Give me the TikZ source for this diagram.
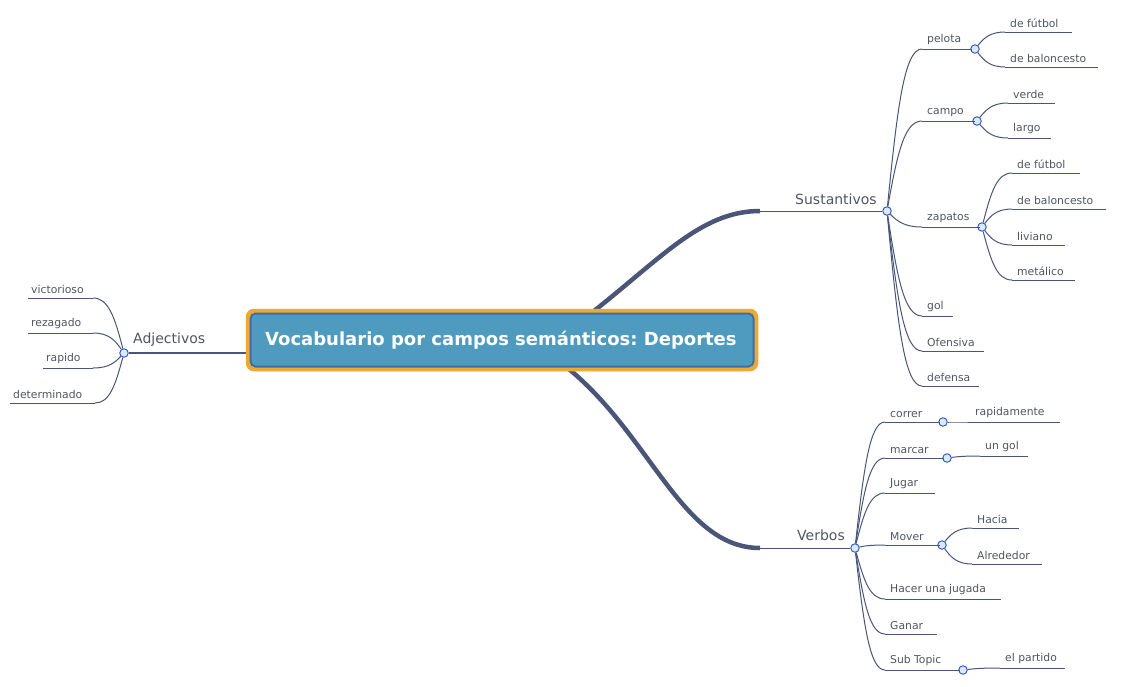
\documentclass[tikz,border=0pt]{standalone}
\usepackage{fontspec}
\setmainfont{DejaVu Sans}
\usetikzlibrary{calc}
\pgfdeclarelayer{bg}
\pgfsetlayers{bg,main}
\frenchspacing
\definecolor{ln}{HTML}{4A5578}
\definecolor{tx}{HTML}{505560}
\definecolor{cf}{HTML}{DDE8F8}
\definecolor{cb}{HTML}{2255CC}
\definecolor{mainfill}{HTML}{4F9BC0}
\definecolor{mainin}{HTML}{3A6FA8}
\definecolor{mainout}{HTML}{F0A830}
\tikzset{
 lnk/.style={draw=ln,line width=1pt},
 thick lnk/.style={draw=ln,line width=4.5pt},
 hub/.style={circle,draw=cb,fill=cf,line width=0.9pt,inner sep=0pt,minimum size=8.5pt},
 lbl/.style={text=tx,font=\fontsize{10.8}{12}\selectfont,inner sep=0pt,anchor=south west},
 big/.style={text=tx,font=\fontsize{14}{16}\selectfont,inner sep=0pt,anchor=south west},
}
\newcommand\fan[2]{%
 \begin{pgfonlayer}{bg}
 \draw[lnk] let \p1=(#1), \p2=(#2) in (#1) .. controls ({\x1+0.3*(\x2-\x1)},{\y1+0.65*(\y2-\y1)}) and ({\x1+0.5*(\x2-\x1)},\y2) .. (#2);
 \end{pgfonlayer}}
% #1 name, #2 parent, #3 x-start, #4 x-end, #5 y, #6 text
\newcommand\rleaf[6]{%
 \coordinate (#1-s) at (#3,#5); \coordinate (#1-e) at (#4,#5);
 \node[lbl] (#1) at ([xshift=5pt,yshift=4pt]#1-s) {#6};
 \fan{#2}{#1-s}\draw[lnk] (#1-s) -- (#1-e);}
\newcommand\lleaf[6]{%
 \coordinate (#1-s) at (#3,#5); \coordinate (#1-e) at (#4,#5);
 \node[lbl] (#1) at ([xshift=3pt,yshift=4pt]#1-s) {#6};
 \fan{#2}{#1-e}\draw[lnk] (#1-e) -- (#1-s);}
\begin{document}
\begin{tikzpicture}[x=1pt,y=-1pt]
\useasboundingbox (0,0) rectangle (1129,686);
\node[hub] (sush) at (887,211) {};
\node[hub] (verh) at (855,548) {};
\node[hub] (adjh) at (124,353) {};
% main branches
\coordinate (sus-s) at (760,211);
\coordinate (ver-s) at (760,548);
\coordinate (m1) at (585,318);
\coordinate (m2) at (560,362);
\draw[thick lnk] (m1) .. controls (660,260) and (700,211) .. (sus-s);
\draw[thick lnk] (m2) .. controls (650,430) and (680,548) .. (ver-s);
\begin{pgfonlayer}{bg}
\draw[lnk] (sus-s) -- (sush);
\draw[lnk] (ver-s) -- (verh);
\draw[ln,line width=2pt] (adjh) -- (250,353);
\end{pgfonlayer}
% central node
\node[draw=mainout,line width=4.5pt,rounded corners=6pt,minimum width=508pt,minimum height=58pt,inner sep=0pt] (frame) at (502,340) {};
\node[draw=mainin,fill=mainfill,line width=2pt,rounded corners=5pt,minimum width=503pt,minimum height=53pt,inner sep=0pt] (main) at (502,340) {};
\node[text=white,font=\bfseries\fontsize{18}{20}\selectfont,inner sep=0pt,anchor=west] (title) at (265,340) {Vocabulario por campos semánticos: Deportes};
\node[big] (sus) at (795,205) {Sustantivos};
\node[big] (ver) at (797,541) {Verbos};
\node[big,anchor=south west] (adj) at (133,347) {Adjectivos};
% Sustantivos
\node[hub] (pelh) at (975,49) {};
\node[hub] (camh) at (977,121) {};
\node[hub] (zaph) at (982,227) {};
\rleaf{pel}{sush}{922}{972}{49}{pelota}
\rleaf{cam}{sush}{922}{975}{121}{campo}
\rleaf{zap}{sush}{922}{980}{227}{zapatos}
\rleaf{gol}{sush}{922}{953}{316}{gol}
\rleaf{ofe}{sush}{922}{984}{351}{Ofensiva}
\rleaf{def}{sush}{922}{979}{386}{defensa}
\rleaf{pf}{pelh}{1005}{1072}{32}{de fútbol}
\rleaf{pb}{pelh}{1005}{1098}{67}{de baloncesto}
\rleaf{cv}{camh}{1008}{1055}{103}{verde}
\rleaf{cl}{camh}{1008}{1051}{138}{largo}
\rleaf{zf}{zaph}{1012}{1080}{173}{de fútbol}
\rleaf{zb}{zaph}{1012}{1106}{209}{de baloncesto}
\rleaf{zl}{zaph}{1012}{1065}{245}{liviano}
\rleaf{zm}{zaph}{1012}{1075}{280}{metálico}
% Verbos
\node[hub] (corh) at (943,422) {};
\node[hub] (marh) at (947,458) {};
\node[hub] (movh) at (942,545) {};
\node[hub] (subh) at (963,670) {};
\rleaf{cor}{verh}{885}{940}{422}{correr}
\rleaf{mar}{verh}{885}{944}{458}{marcar}
\rleaf{jug}{verh}{885}{935}{493}{Jugar}
\rleaf{mov}{verh}{885}{940}{545}{Mover}
\rleaf{hac}{verh}{885}{1001}{599}{Hacer una jugada}
\rleaf{gan}{verh}{885}{937}{634}{Ganar}
\rleaf{sub}{verh}{885}{960}{670}{Sub Topic}
\rleaf{rap}{corh}{970}{1060}{422}{rapidamente}
\rleaf{ung}{marh}{980}{1028}{456}{un gol}
\rleaf{hacia}{movh}{972}{1019}{528}{Hacia}
\rleaf{alr}{movh}{972}{1042}{564}{Alrededor}
\rleaf{elp}{subh}{1000}{1065}{668}{el partido}
% Adjectivos
\lleaf{vic}{adjh}{28}{93}{298}{victorioso}
\lleaf{rez}{adjh}{28}{93}{333}{rezagado}
\lleaf{rpd}{adjh}{43}{93}{368}{rapido}
\lleaf{det}{adjh}{10}{95}{403}{determinado}
\end{tikzpicture}
\end{document}
